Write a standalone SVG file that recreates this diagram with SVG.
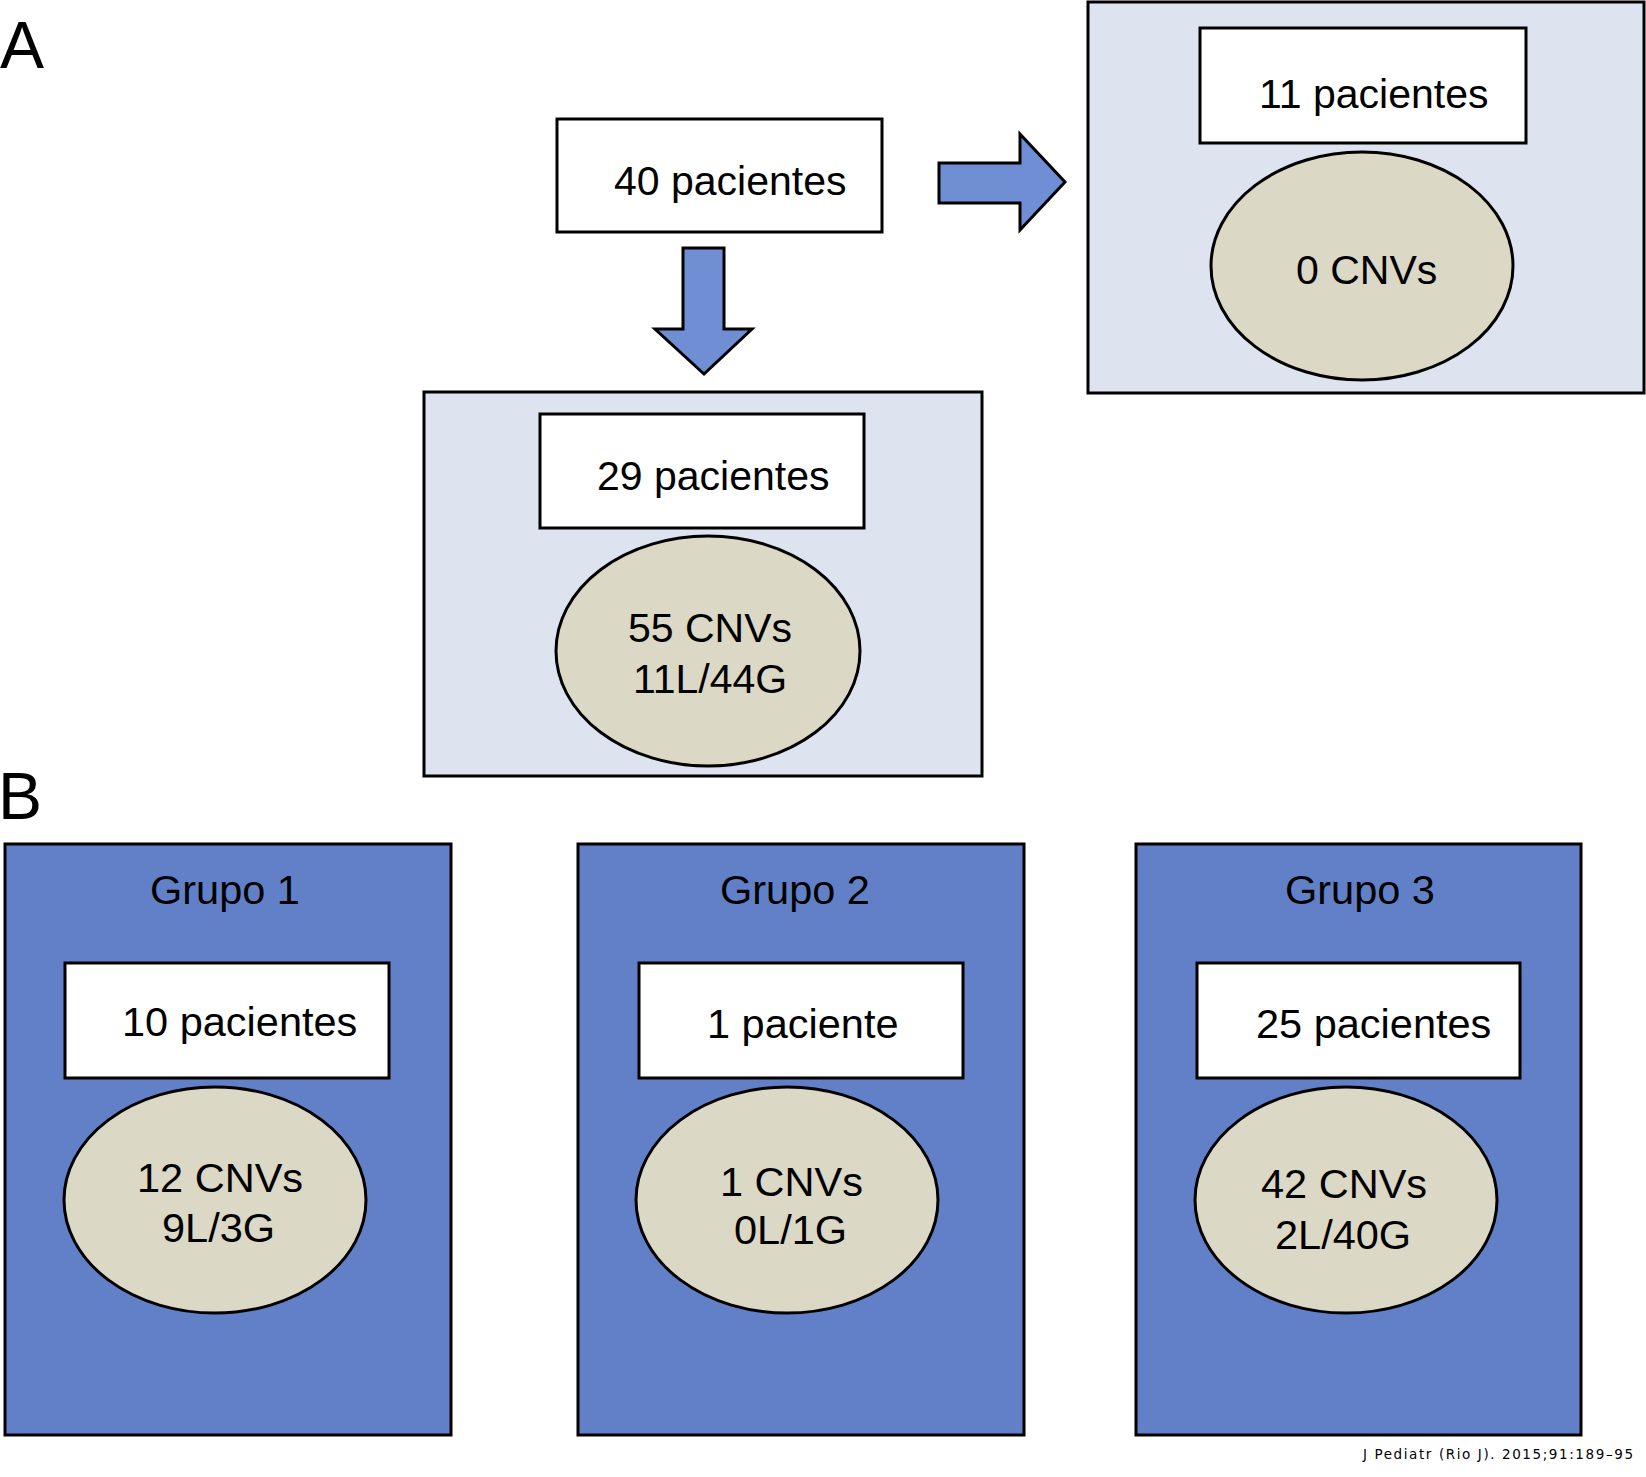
<svg xmlns="http://www.w3.org/2000/svg" width="1646" height="1477" viewBox="0 0 1646 1477">
<style>
text{font-family:"Liberation Sans",Arial,sans-serif;fill:#000}
.t{font-size:41px}
.tb{font-size:41.5px}
.lbl{font-size:66px}
.box{fill:#fff;stroke:#000;stroke-width:3}
.cont{fill:#dde3ef;stroke:#000;stroke-width:3}
.grp{fill:#6180c8;stroke:#000;stroke-width:3}
.ell{fill:#dbd8c5;stroke:#000;stroke-width:3}
.arr{fill:#6f8ed4;stroke:#000;stroke-width:3;stroke-linejoin:miter}
.cite{font-family:"DejaVu Sans",sans-serif;font-size:13.5px}
</style>
<rect width="1646" height="1477" fill="#fff"/>
<text class="lbl" x="0" y="68">A</text>
<text class="lbl" x="-2" y="819">B</text>

<g id="connectors">
<path class="arr" d="M683,248 L724,248 L724,329 L752,329 L704,374 L655,329 L683,329 Z"/>
<path class="arr" d="M939,163 L1020,163 L1020,134 L1065,182 L1020,230 L1020,203 L939,203 Z"/>
</g>

<g id="node-40">
<rect class="box" x="557" y="119" width="325" height="113"/>
<text class="t" x="614" y="195">40 pacientes</text>
</g>

<g id="node-11">
<rect class="cont" x="1088" y="2" width="556" height="391"/>
<rect class="box" x="1200" y="28" width="326" height="115"/>
<text class="t" x="1259" y="108">11 pacientes</text>
<ellipse class="ell" cx="1362" cy="266" rx="151" ry="114"/>
<text class="t" x="1296" y="284">0 CNVs</text>
</g>

<g id="node-29">
<rect class="cont" x="424" y="392" width="558" height="384"/>
<rect class="box" x="540" y="414" width="324" height="114"/>
<text class="t" x="597" y="490">29 pacientes</text>
<ellipse class="ell" cx="708" cy="651" rx="152" ry="115"/>
<text class="t" x="628" y="642">55 CNVs</text>
<text class="t" x="633" y="693">11L/44G</text>
</g>

<g id="grupo1">
<rect class="grp" x="5" y="844" width="446" height="591"/>
<text class="tb" x="150" y="904">Grupo 1</text>
<rect class="box" x="65" y="963" width="324" height="115"/>
<text class="tb" x="122" y="1036">10 pacientes</text>
<ellipse class="ell" cx="215" cy="1200" rx="151" ry="113"/>
<text class="tb" x="137" y="1192">12 CNVs</text>
<text class="tb" x="162" y="1242">9L/3G</text>
</g>

<g id="grupo2">
<rect class="grp" x="578" y="844" width="446" height="591"/>
<text class="tb" x="720" y="904">Grupo 2</text>
<rect class="box" x="639" y="963" width="324" height="115"/>
<text class="tb" x="707" y="1038">1 paciente</text>
<ellipse class="ell" cx="787" cy="1200" rx="151" ry="113"/>
<text class="tb" x="720" y="1196">1 CNVs</text>
<text class="tb" x="734" y="1244">0L/1G</text>
</g>

<g id="grupo3">
<rect class="grp" x="1136" y="844" width="445" height="591"/>
<text class="tb" x="1285" y="904">Grupo 3</text>
<rect class="box" x="1197" y="963" width="323" height="115"/>
<text class="tb" x="1256" y="1038">25 pacientes</text>
<ellipse class="ell" cx="1346" cy="1200" rx="151" ry="113"/>
<text class="tb" x="1261" y="1198">42 CNVs</text>
<text class="tb" x="1275" y="1249">2L/40G</text>
</g>

<text class="cite" x="1363" y="1459" textLength="270" lengthAdjust="spacing">J Pediatr (Rio J). 2015;91:189–95</text>
</svg>
